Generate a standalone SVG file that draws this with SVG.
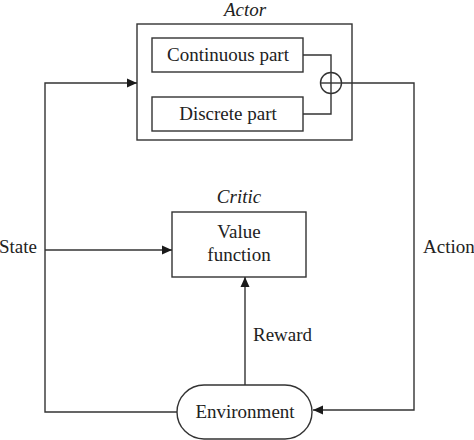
<svg xmlns="http://www.w3.org/2000/svg" width="474" height="440" viewBox="0 0 474 440">
<defs>
<style>
.box{fill:#fff;stroke:#333;stroke-width:1.4}
.ln{fill:none;stroke:#333;stroke-width:1.4}
text{font-family:"Liberation Serif","Times New Roman",serif;font-size:19px;fill:#222}
.it{font-style:italic}
</style>
<marker id="ah" viewBox="0 0 10 10" refX="10" refY="5" markerWidth="10" markerHeight="10" markerUnits="userSpaceOnUse" orient="auto">
<path d="M0,0.5 L10,5 L0,9.5 Z" fill="#1a1a1a"/>
</marker>
</defs>
<rect width="474" height="440" fill="#fff"/>
<g id="actor">
<rect class="box" x="137" y="24" width="215" height="116"/>
<text class="it" x="245" y="16" text-anchor="middle">Actor</text>
</g>
<g id="continuous">
<rect class="box" x="152" y="38" width="151" height="34"/>
<text x="228" y="61" text-anchor="middle">Continuous part</text>
</g>
<g id="discrete">
<rect class="box" x="152" y="97" width="151" height="34"/>
<text x="228" y="120" text-anchor="middle">Discrete part</text>
</g>
<g id="sum">
<circle class="box" cx="331" cy="83" r="10.5"/>
<line class="ln" x1="320.5" y1="83" x2="341.5" y2="83"/>
<line class="ln" x1="331" y1="72.5" x2="331" y2="93.5"/>
</g>
<g id="critic">
<rect class="box" x="172" y="212" width="134" height="65"/>
<text class="it" x="239" y="203" text-anchor="middle">Critic</text>
<text x="239" y="238" text-anchor="middle">Value</text>
<text x="239" y="261" text-anchor="middle">function</text>
</g>
<g id="environment">
<rect class="box" x="177" y="385" width="135" height="54" rx="27" ry="27"/>
<text x="245" y="418" text-anchor="middle">Environment</text>
</g>
<g id="connectors">
<polyline class="ln" points="303,55 331,55 331,72.5"/>
<polyline class="ln" points="303,114 331,114 331,93.5"/>
<polyline class="ln" points="341.5,83 414,83 414,410 313,410" marker-end="url(#ah)"/>
<polyline class="ln" points="177,412 45,412 45,83 137,83" marker-end="url(#ah)"/>
<line class="ln" x1="45" y1="250" x2="172" y2="250" marker-end="url(#ah)"/>
<line class="ln" x1="245" y1="385" x2="245" y2="277" marker-end="url(#ah)"/>
<text x="423" y="253">Action</text>
<text x="37" y="253" text-anchor="end">State</text>
<text x="253" y="341">Reward</text>
</g>
</svg>
